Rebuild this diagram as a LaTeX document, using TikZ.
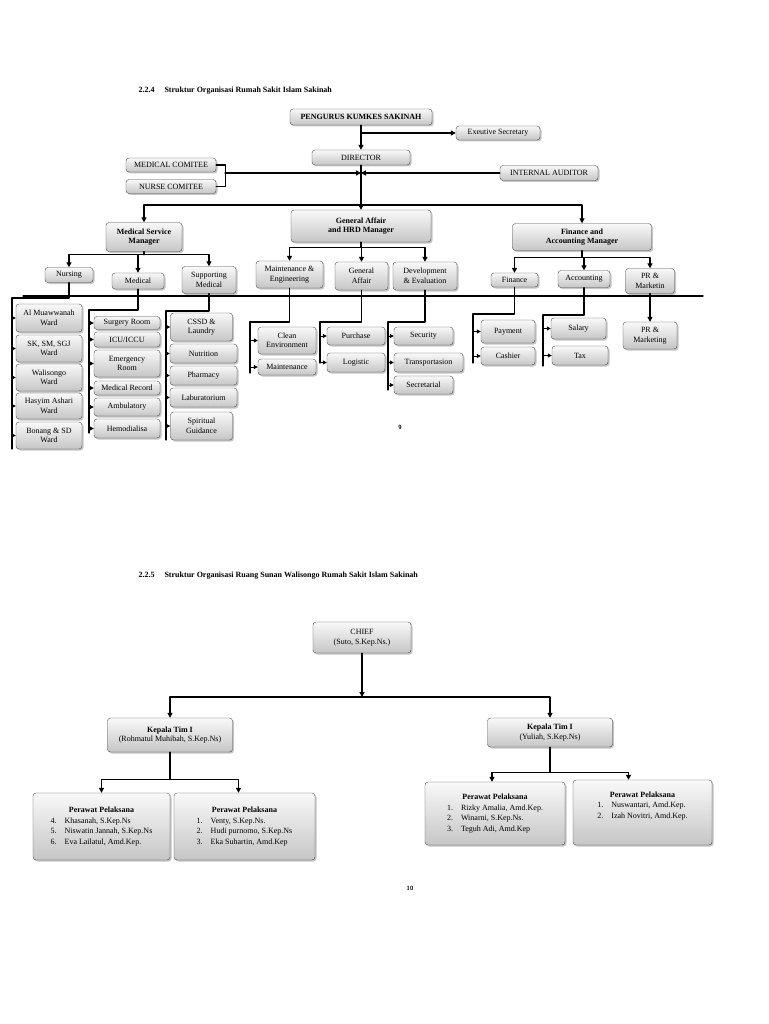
\documentclass[tikz,border=0pt]{standalone}
\usepackage{fontspec}
\setmainfont{Liberation Serif}
\usetikzlibrary{arrows.meta,shadows}

\tikzset{
  box/.style={draw=black!70,rounded corners=3pt,top color=gray!5,bottom color=gray!45,
    drop shadow={opacity=0.45,shadow xshift=1.5pt,shadow yshift=-1.5pt},
    align=center,inner sep=1pt,font=\fontsize{8}{9.5}\selectfont},
  bbox/.style={box,font=\fontsize{8}{9.5}\selectfont\bfseries},
  link/.style={line width=1.3pt},
  arr/.style={link,-{Triangle[length=5pt,width=5pt]}},
  tip/.style={line width=1pt,-{Triangle[length=4pt,width=4pt]}},
  ttl/.style={anchor=west,font=\fontsize{8}{9.5}\selectfont\bfseries},
  pgno/.style={font=\sffamily\bfseries\fontsize{6}{7}\selectfont}
}

\begin{document}
\begin{tikzpicture}[x=1pt,y=-1pt,line cap=round,line join=round]
  \fill[white] (0,0) rectangle (768,1024);
  \useasboundingbox (0,0) rectangle (768,1024);

  % 2.2.4
  \node[ttl] (ttl1) at (135,91) {2.2.4\hspace{10pt}Struktur Organisasi Rumah Sakit Islam Sakinah};

  \node[bbox,minimum width=142,minimum height=16] (peng) at (361,117) {PENGURUS KUMKES SAKINAH};
  \node[box,minimum width=84,minimum height=14] (sec) at (498,133) {Exeutive Secretary};
  \node[box,minimum width=98,minimum height=15] (dir) at (361,157.5) {DIRECTOR};
  \node[box,minimum width=90,minimum height=14] (mc) at (171,165) {MEDICAL COMITEE};
  \node[box,minimum width=90,minimum height=14] (nc) at (171,186.5) {NURSE COMITEE};
  \node[box,minimum width=98,minimum height=15] (ia) at (549,173) {INTERNAL AUDITOR};

  \draw[arr] (peng.south) -- (dir.north);
  \draw[arr] (peng.south |- sec.west) -- (sec.west);
  \draw[link] (mc.east) -- ++(9,0) coordinate (br1) -- (br1 |- nc.east) -- (nc.east);
  \coordinate (br) at (225,173);
  \coordinate (jn) at (361,173);
  \draw[arr] (br) -- (jn);
  \draw[arr] (ia.west) -- (jn);

  \node[bbox,minimum width=76,minimum height=29] (msm) at (144,237) {Medical Service\\Manager};
  \node[bbox,minimum width=140,minimum height=32] (ga) at (361,226) {General Affair\\and HRD Manager};
  \node[bbox,minimum width=139,minimum height=27] (fam) at (582,237) {Finance and\\Accounting Manager};

  \coordinate (b0) at (361,205);
  \draw[arr] (dir.south) -- (ga.north);
  \draw[arr] (b0) -| (msm.north);
  \draw[arr] (b0) -| (fam.north);

  \node[box,minimum width=48,minimum height=15] (nurs) at (69,275) {Nursing};
  \node[box,minimum width=52,minimum height=16] (med) at (138,281) {Medical};
  \node[box,minimum width=54,minimum height=27] (sup) at (209,280) {Supporting\\Medical};
  \node[box,minimum width=67,minimum height=27] (mne) at (289.5,274.5) {Maintenance \&\\Engineering};
  \node[box,minimum width=53,minimum height=28] (gen) at (361.5,276) {General\\Affair};
  \node[box,minimum width=64,minimum height=28] (dev) at (425,276) {Development\\\& Evaluation};
  \node[box,minimum width=47,minimum height=14] (fin) at (514.5,280) {Finance};
  \node[box,minimum width=52,minimum height=17] (acc) at (584,279) {Accounting};
  \node[box,minimum width=49,minimum height=25] (pr) at (650,281) {PR \&\\Marketin};

  \draw[link] (msm.south) -- ++(0,3) coordinate (m1);
  \draw[arr] (m1) -| (nurs.north);
  \draw[arr] (m1) -| (med.north);
  \draw[arr] (m1) -| (sup.north);
  \draw[link] (ga.south) -- ++(0,5) coordinate (g1);
  \draw[arr] (g1) -| (mne.north);
  \draw[arr] (g1) -| (gen.north);
  \draw[arr] (g1) -| (dev.north);
  \draw[link] (fam.south) -- ++(0,6.5) coordinate (f1);
  \draw[arr] (f1) -| (fin.north);
  \draw[arr] (f1) -| (acc.north);
  \draw[arr] (f1) -| (pr.north);

  \draw[link] (23,296) coordinate (l0) -- (703,296) coordinate (l1);

  % units
  \node[box,minimum width=66,minimum height=28] (w1) at (49,318) {Al Muawwanah\\Ward};
  \node[box,minimum width=66,minimum height=27] (w2) at (49,348.5) {SK, SM, SGJ\\Ward};
  \node[box,minimum width=66,minimum height=27] (w3) at (49,377.5) {Walisongo\\Ward};
  \node[box,minimum width=66,minimum height=26] (w4) at (49,406) {Hasyim Ashari\\Ward};
  \node[box,minimum width=66,minimum height=27] (w5) at (49,435.5) {Bonang \& SD\\Ward};

  \node[box,minimum width=66,minimum height=13] (r1) at (127,323) {Surgery Room};
  \node[box,minimum width=66,minimum height=15] (r2) at (127,339.5) {ICU/ICCU};
  \node[box,minimum width=66,minimum height=27] (r3) at (127,363.5) {Emergency\\Room};
  \node[box,minimum width=66,minimum height=14] (r4) at (127,388) {Medical Record};
  \node[box,minimum width=66,minimum height=18] (r5) at (127,407) {Ambulatory};
  \node[box,minimum width=66,minimum height=19] (r6) at (127,428.5) {Hemodialisa};

  \node[box,minimum width=62,minimum height=28] (s1) at (201.5,327) {CSSD \&\\Laundry};
  \node[box,minimum width=67,minimum height=19] (s2) at (203.5,353.5) {Nutrition};
  \node[box,minimum width=67,minimum height=19] (s3) at (203.5,375.5) {Pharmacy};
  \node[box,minimum width=67,minimum height=19] (s4) at (203.5,397.5) {Laburatorium};
  \node[box,minimum width=62,minimum height=28] (s5) at (201.5,426) {Spiritual\\Guidance};

  \node[box,minimum width=58,minimum height=27] (e1) at (287,340.5) {Clean\\Environment};
  \node[box,minimum width=58,minimum height=16] (e2) at (287,367) {Maintenance};
  \node[box,minimum width=58,minimum height=18] (p1) at (356,336) {Purchase};
  \node[box,minimum width=58,minimum height=19] (p2) at (356,362.5) {Logistic};
  \node[box,minimum width=59,minimum height=18] (d1) at (423.5,336) {Security};
  \node[box,minimum width=69,minimum height=19] (d2) at (428.5,362.5) {Transportasion};
  \node[box,minimum width=59,minimum height=18] (d3) at (423.5,385) {Secretarial};

  \node[box,minimum width=54,minimum height=23] (y1) at (508,331.5) {Payment};
  \node[box,minimum width=54,minimum height=18] (y2) at (508,356) {Cashier};
  \node[box,minimum width=55,minimum height=21] (t1) at (578.5,328.5) {Salary};
  \node[box,minimum width=56,minimum height=19] (t2) at (580,355.5) {Tax};
  \node[box,minimum width=54,minimum height=27] (prm) at (650,335.5) {PR \&\\Marketing};

  \draw[link] (nurs.south) |- (12,298) coordinate (c1) -- (12,449);
  \draw[link] (med.south) |- (89,310) coordinate (c2) -- (89,433);
  \draw[link] (sup.south) |- (166,311) coordinate (c3) -- (166,440);
  \draw[link] (mne.south) |- (250,322) coordinate (c4) -- (250,373);
  \draw[link] (gen.south) |- (320,322) coordinate (c5) -- (320,363);
  \draw[link] (dev.south) |- (388,322) coordinate (c6) -- (388,390);
  \draw[link] (fin.south) |- (473,314) coordinate (c7) -- (473,363);
  \draw[link] (acc.south) |- (543,315) coordinate (c8) -- (543,366);
  \draw[arr] (pr.south) -- (prm.north);

  \foreach \n in {w1,w2,w3,w4,w5} \draw[tip] (c1 |- \n.west) -- (\n.west);
  \foreach \n in {r1,r2,r3,r4,r5,r6} \draw[tip] (c2 |- \n.west) -- (\n.west);
  \foreach \n in {s1,s2,s3,s4,s5} \draw[tip] (c3 |- \n.west) -- (\n.west);
  \foreach \n in {e1,e2} \draw[tip] (c4 |- \n.west) -- (\n.west);
  \foreach \n in {p1,p2} \draw[tip] (c5 |- \n.west) -- (\n.west);
  \foreach \n in {d1,d2,d3} \draw[tip] (c6 |- \n.west) -- (\n.west);
  \foreach \n in {y1,y2} \draw[tip] (c7 |- \n.west) -- (\n.west);
  \foreach \n in {t1,t2} \draw[tip] (c8 |- \n.west) -- (\n.west);

  \node[pgno] (pg9) at (400,427) {9};

  % 2.2.5
  \node[ttl] (ttl2) at (135,576) {2.2.5\hspace{10pt}Struktur Organisasi Ruang Sunan Walisongo Rumah Sakit Islam Sakinah};

  \node[box,minimum width=98,minimum height=31] (chief) at (362,637.5) {CHIEF\\(Suto, S.Kep.Ns.)};
  \node[box,minimum width=125,minimum height=34] (kt1) at (170,735) {\textbf{Kepala Tim I}\\(Rohmatul Muhibah, S.Kep.Ns)};
  \node[box,minimum width=125,minimum height=29] (kt2) at (550,732.5) {\textbf{Kepala Tim I}\\(Yuliah, S.Kep.Ns)};

  \coordinate (k0) at (362,697);
  \draw[arr] (chief.south) -- (k0);
  \draw[arr] (k0) -| (kt1.north);
  \draw[arr] (k0) -| (kt2.north);

  \node[box,minimum width=137,minimum height=67,font=\fontsize{8}{10.5}\selectfont] (pa) at (101.5,826.5)
    {\begin{tabular}{@{}r@{\hspace{8pt}}l@{}}\multicolumn{2}{c}{\textbf{Perawat Pelaksana}}\\
     4. & Khasanah, S.Kep.Ns\\ 5. & Niswatin Jannah, S.Kep.Ns\\ 6. & Eva Lailatul, Amd.Kep.\end{tabular}};
  \node[box,minimum width=141,minimum height=67,font=\fontsize{8}{10.5}\selectfont] (pb) at (244.5,826.5)
    {\begin{tabular}{@{}r@{\hspace{8pt}}l@{}}\multicolumn{2}{c}{\textbf{Perawat Pelaksana}}\\
     1. & Venty, S.Kep.Ns.\\ 2. & Hudi purnomo, S.Kep.Ns\\ 3. & Eka Suhartin, Amd.Kep\end{tabular}};
  \node[box,minimum width=140,minimum height=63,font=\fontsize{8}{10.5}\selectfont] (pc) at (495,813.5)
    {\begin{tabular}{@{}r@{\hspace{8pt}}l@{}}\multicolumn{2}{c}{\textbf{Perawat Pelaksana}}\\
     1. & Rizky Amalia, Amd.Kep.\\ 2. & Winarni, S.Kep.Ns.\\ 3. & Teguh Adi, Amd.Kep\end{tabular}};
  \node[box,minimum width=139,minimum height=65,font=\fontsize{8}{10.5}\selectfont] (pd) at (642.5,812.5)
    {\begin{tabular}{@{}r@{\hspace{8pt}}l@{}}\multicolumn{2}{c}{\textbf{Perawat Pelaksana}}\\
     1. & Nuswantari, Amd.Kep.\\ 2. & Izah Novitri, Amd.Kep.\\[14pt]\end{tabular}};

  \draw[link] (kt1.south) -- ++(0,27) coordinate (k1);
  \draw[arr] (k1) -| (pa.north);
  \draw[arr] (k1) -| ([xshift=-6pt]pb.north);
  \draw[link] (kt2.south) -- ++(0,25) coordinate (k2);
  \draw[arr] (k2) -| ([xshift=-3pt]pc.north);
  \draw[arr] (k2) -| ([xshift=-14pt]pd.north);

  \node[pgno] (pg10) at (410,888) {10};
\end{tikzpicture}
\end{document}
